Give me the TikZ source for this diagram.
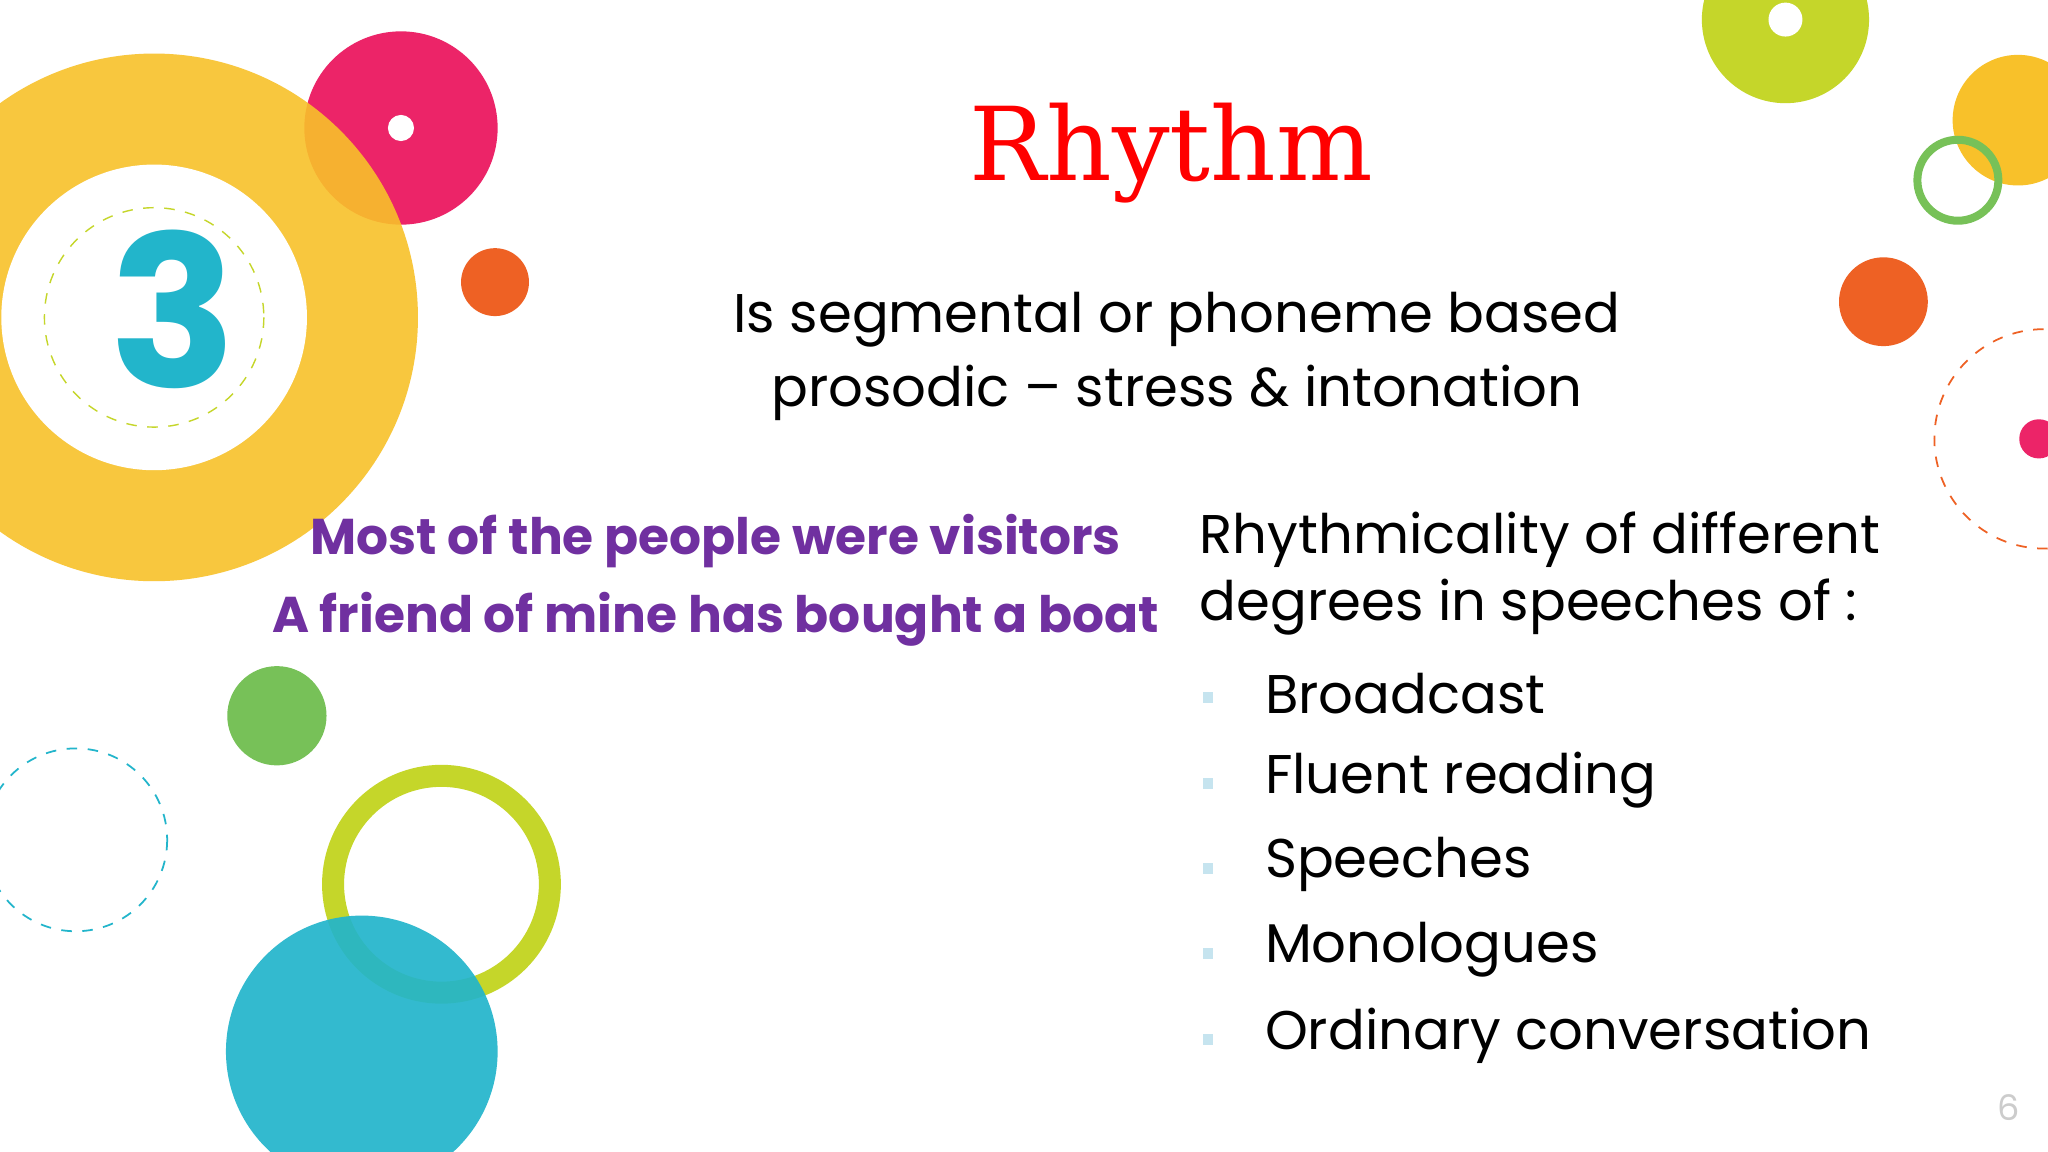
\documentclass[tikz,border=0pt]{standalone}
\usepackage{fontspec}
\setmainfont{Poppins}
\newfontfamily\titlefont{DejaVu Serif}
\begin{document}
\begin{tikzpicture}[x=0.013061cm,y=-0.013061cm,
  body/.style={font=\fontsize{15.5}{19}\selectfont,text=black,inner sep=0pt},
  purp/.style={font=\bfseries\fontsize{14.3}{18}\selectfont,text=purple!60!blue!70!black,inner sep=0pt},
  bul/.style={fill=gray!40!cyan!30,minimum size=3pt,inner sep=0pt}]
\definecolor{yel}{HTML}{F8C12A}\definecolor{pnk}{HTML}{EC2468}
\definecolor{org}{HTML}{EE6124}\definecolor{grn}{HTML}{77C158}
\definecolor{lim}{HTML}{C5D62A}\definecolor{tea}{HTML}{22B5CB}
\definecolor{purp}{HTML}{7030A0}
\useasboundingbox (0,0) rectangle (1568,882);
\clip (0,0) rectangle (1568,882);
\fill[white] (0,0) rectangle (1568,882);
% left decorations
\fill[pnk] (307,98) circle (74);
\fill[yel,opacity=0.9] (118,243) circle (202);
\fill[white] (118,243) circle (117);
\draw[lim,dashed,line width=0.4pt] (118,243) circle (84);
\node[text=tea,font=\bfseries\fontsize{60}{60}\selectfont,inner sep=0pt] (three) at (133,237) {3};
\fill[white] (307,98) circle (10);
\fill[org] (379,216) circle (26);
\fill[grn] (212,548) circle (38);
\draw[tea,dashed,line width=0.5pt] (58,643) circle (70);
\draw[lim,line width=2.2mm] (338,677) circle (83);
\fill[tea,opacity=0.92] (277,805) circle (104);
% right decorations
\fill[lim] (1367,15) circle (64);
\fill[white] (1367,15) circle (13);
\fill[yel] (1545,92) circle (50);
\draw[grn,line width=0.8mm] (1499,138) circle (31);
\fill[org] (1442,231) circle (34);
\draw[org,dashed,line width=0.5pt] (1565,336) circle (84);
\fill[pnk] (1561,336) circle (15);
\node[text=gray!40,font=\fontsize{10}{10}\selectfont] (pg) at (1538,848) {6};
% texts
\node[text=red,font=\titlefont\fontsize{29}{30}\selectfont,inner sep=0pt] (title) at (897,117) {Rhythm};
\node[body,align=center] (sub) at (901,273) {Is segmental or phoneme based\\[2pt]prosodic -- stress \& intonation};
\node[purp,text=purp] (p1) at (548,414) {Most of the people were visitors};
\node[purp,text=purp] (p2) at (548,474) {A friend of mine has bought a boat};
\node[body,anchor=west] (r1) at (918,413) {Rhythmicality of different};
\node[body,anchor=west] (r2) at (918,465) {degrees in speeches of :};
\foreach \t/\y [count=\i] in {Broadcast/531,Fluent reading/597,Speeches/662,Monologues/727,Ordinary conversation/793}{
  \node[bul] (b\i) at (925,\y+3) {};
  \node[body,anchor=west] (it\i) at (968,\y) {\t};
}
\end{tikzpicture}
\end{document}
